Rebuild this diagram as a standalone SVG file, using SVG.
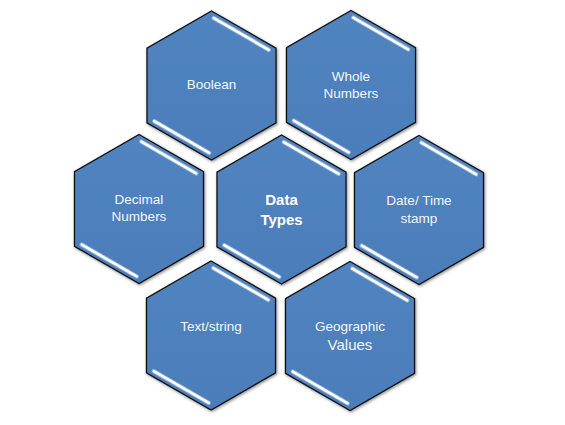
<svg xmlns="http://www.w3.org/2000/svg" xmlns:xlink="http://www.w3.org/1999/xlink" width="565" height="425" viewBox="0 0 565 425">
  <style>
    .hex { fill: url(#hexFill); stroke: #111; stroke-width: 1.3; filter: url(#shadow); }
    .hl { stroke: #ffffff; stroke-width: 2.6; stroke-linecap: round; filter: url(#soft); }
    .hlw { stroke: #bcd3f0; stroke-width: 4.5; stroke-linecap: round; opacity: 0.55; filter: url(#soft); }
    .lbl { font-family: "Liberation Sans", Arial, sans-serif; font-size: 13.5px; fill: #f4f6fb; text-anchor: middle; }
    .big { font-size: 15px; }
    .bold { font-weight: bold; font-size: 15px; fill: #ffffff; }
  </style>
  <defs>
    <linearGradient id="hexFill" x1="0" y1="0" x2="0" y2="1">
      <stop offset="0" stop-color="#5184c0"/>
      <stop offset="1" stop-color="#4b7dba"/>
    </linearGradient>
    <filter id="shadow" x="-20%" y="-20%" width="140%" height="140%">
      <feDropShadow dx="1" dy="1.2" stdDeviation="1.4" flood-color="#000" flood-opacity="0.45"/>
    </filter>
    <filter id="soft" x="-10%" y="-50%" width="120%" height="200%">
      <feGaussianBlur stdDeviation="0.5"/>
    </filter>
    <g id="hexShape">
      <polygon class="hex" points="0,-74.5 64.52,-37.25 64.52,37.25 0,74.5 -64.52,37.25 -64.52,-37.25"/>
      <line class="hlw" x1="2.3" y1="-67.4" x2="57.2" y2="-35.7"/>
      <line class="hl" x1="2.3" y1="-67.4" x2="57.2" y2="-35.7"/>
      <line class="hlw" x1="-57.2" y1="35.7" x2="-2.3" y2="67.4"/>
      <line class="hl" x1="-57.2" y1="35.7" x2="-2.3" y2="67.4"/>
    </g>
  </defs>

  <rect width="565" height="425" fill="#ffffff"/>

  <g id="connectors"/>

  <g id="node-boolean">
    <use xlink:href="#hexShape" href="#hexShape" transform="translate(211.5,85.5)"/>
    <text class="lbl" x="211.5" y="89">Boolean</text>
  </g>

  <g id="node-whole-numbers">
    <use xlink:href="#hexShape" href="#hexShape" transform="translate(351,85)"/>
    <text class="lbl" x="351" y="81">Whole</text>
    <text class="lbl" x="351" y="98">Numbers</text>
  </g>

  <g id="node-decimal-numbers">
    <use xlink:href="#hexShape" href="#hexShape" transform="translate(139,209)"/>
    <text class="lbl" x="139" y="204">Decimal</text>
    <text class="lbl" x="139" y="221">Numbers</text>
  </g>

  <g id="node-data-types">
    <use xlink:href="#hexShape" href="#hexShape" transform="translate(281.5,209.5)"/>
    <text class="lbl bold" x="281.5" y="205">Data</text>
    <text class="lbl bold" x="281.5" y="224.5">Types</text>
  </g>

  <g id="node-date-time">
    <use xlink:href="#hexShape" href="#hexShape" transform="translate(419,210)"/>
    <text class="lbl" x="419" y="205">Date/ Time</text>
    <text class="lbl" x="419" y="222.5">stamp</text>
  </g>

  <g id="node-text-string">
    <use xlink:href="#hexShape" href="#hexShape" transform="translate(211,335.5)"/>
    <text class="lbl" x="211" y="331">Text/string</text>
  </g>

  <g id="node-geographic">
    <use xlink:href="#hexShape" href="#hexShape" transform="translate(350,336)"/>
    <text class="lbl" x="350" y="331">Geographic</text>
    <text class="lbl big" x="350" y="350">Values</text>
  </g>
</svg>
